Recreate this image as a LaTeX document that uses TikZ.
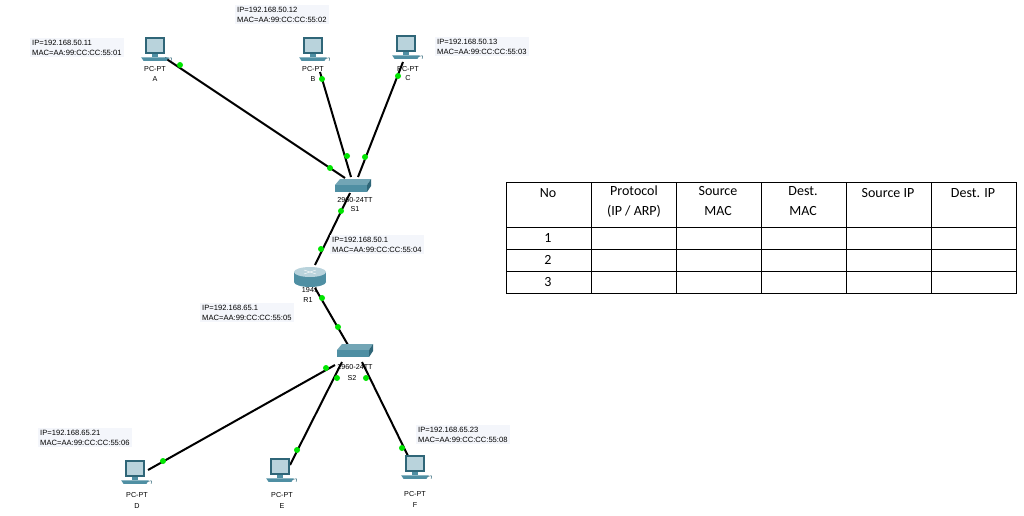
\documentclass[tikz,border=0pt]{standalone}
\usepackage{fontspec}
\setmainfont{Liberation Sans}
\newfontfamily\tabfont{Carlito}
\usetikzlibrary{positioning}
\definecolor{lblbg}{HTML}{F4F6FB}
\definecolor{dev}{HTML}{4F8FA3}
\definecolor{devlight}{HTML}{B9D3DC}
\definecolor{devdark}{HTML}{2F6678}
\tikzset{
  lbl/.style={font=\fontsize{7.6}{9.5}\selectfont, fill=lblbg, align=left, inner sep=2pt, anchor=north west},
  devcap/.style={font=\fontsize{7.2}{8}\selectfont, inner sep=0pt},
  link/.style={line width=2pt, black},
  dot/.style={circle, fill=green!90!black, inner sep=0pt, minimum size=6pt},
  tab/.style={font=\tabfont\fontsize{14}{15}\selectfont, inner sep=0pt},
  pc/.pic={
    \begin{scope}[scale=1.15]
    \fill[devdark] (-9,-9) rectangle (9,6);
    \fill[devlight] (-7,-7) rectangle (7,4);
    \fill[dev] (-3,6) rectangle (3,9);
    \fill[dev] (-12,9) -- (12,9) -- (10,12) -- (-10,12) -- cycle;
    \draw[devdark,thin] (11,10) .. controls (15,9) .. (14,12);
    \end{scope}
  },
  sw/.pic={
    \fill[dev!80!white] (-18,0) -- (-13,-6) -- (18,-6) -- (14,0) -- cycle;
    \fill[dev] (-18,0) rectangle (14,7);
    \fill[devdark] (14,0) -- (18,-6) -- (18,1) -- (14,7) -- cycle;
  },
  rt/.pic={
    \fill[dev] (-16,0) rectangle (16,10);
    \fill[dev] (0,10) ellipse (16 and 5);
    \fill[devlight] (0,0) ellipse (16 and 5);
    \draw[white,thin] (-6,-2) -- (6,2) (-6,2) -- (6,-2);
  }
}
\begin{document}
\begin{tikzpicture}[x=1pt,y=-1pt]
\useasboundingbox[fill=white] (0,0) rectangle (1024,516);
\coordinate (A) at (155,47); \coordinate (B) at (313,47); \coordinate (C) at (406,45);
\coordinate (S1) at (353,185); \coordinate (R1) at (310,272); \coordinate (S2) at (355,350);
\coordinate (D) at (135,470); \coordinate (E) at (280,468); \coordinate (F) at (415,465);
\coordinate (Ae) at (165,58); \coordinate (Be) at (320,72); \coordinate (Ce) at (403,62);
\coordinate (S1a) at (345,178); \coordinate (S1b) at (351,177); \coordinate (S1c) at (358,177);
\coordinate (S1d) at (350,193); \coordinate (R1a) at (315,265); \coordinate (R1b) at (315,288);
\coordinate (S2a) at (348,345); \coordinate (S2d) at (335,365); \coordinate (S2e) at (342,362);
\coordinate (S2f) at (362,362); \coordinate (De) at (148,470); \coordinate (Ee) at (290,465);
\coordinate (Fe) at (410,460);
\draw[link] (Ae) -- (S1a); \draw[link] (Be) -- (S1b); \draw[link] (Ce) -- (S1c);
\draw[link] (S1d) -- (R1a); \draw[link] (R1b) -- (S2a);
\draw[link] (S2d) -- (De); \draw[link] (S2e) -- (Ee); \draw[link] (S2f) -- (Fe);
\pic at (A) {pc}; \pic at (B) {pc}; \pic at (C) {pc};
\pic at (D) {pc}; \pic at (E) {pc}; \pic at (F) {pc};
\pic at (S1) {sw}; \pic at (S2) {sw}; \pic at (R1) {rt};
\foreach \p [count=\i] in {(180,65),(330,168),(322,79),(347,156),(398,76),(365,157),(341,211),(321,249),(322,298),(338,327),(326,368),(163,461),(337,378),(297,450),(366,378),(402,448)}
  \node[dot] (d\i) at \p {};
\node[devcap] (cA1) at (155,69) {PC-PT}; \node[devcap] (cA2) at (155,79) {A};
\node[devcap] (cB1) at (313,69) {PC-PT}; \node[devcap] (cB2) at (313,79) {B};
\node[devcap] (cC1) at (408,69) {PC-PT}; \node[devcap] (cC2) at (408,78) {C};
\node[devcap] (cS11) at (355,200) {2960-24TT}; \node[devcap] (cS12) at (355,209) {S1};
\node[devcap] (cR11) at (310,290) {1941}; \node[devcap] (cR12) at (308,300) {R1};
\node[devcap] (cS21) at (355,367) {2960-24TT}; \node[devcap] (cS22) at (352,378) {S2};
\node[devcap] (cD1) at (137,495) {PC-PT}; \node[devcap] (cD2) at (137,506) {D};
\node[devcap] (cE1) at (282,495) {PC-PT}; \node[devcap] (cE2) at (282,506) {E};
\node[devcap] (cF1) at (415,494) {PC-PT}; \node[devcap] (cF2) at (415,505) {F};
\node[lbl] (lA) at (30,38) {IP=192.168.50.11\\MAC=AA:99:CC:CC:55:01};
\node[lbl] (lB) at (235,5) {IP=192.168.50.12\\MAC=AA:99:CC:CC:55:02};
\node[lbl] (lC) at (435,37) {IP=192.168.50.13\\MAC=AA:99:CC:CC:55:03};
\node[lbl] (lR1) at (330,235) {IP=192.168.50.1\\MAC=AA:99:CC:CC:55:04};
\node[lbl] (lR2) at (200,303) {IP=192.168.65.1\\MAC=AA:99:CC:CC:55:05};
\node[lbl] (lD) at (38,428) {IP=192.168.65.21\\MAC=AA:99:CC:CC:55:06};
\node[lbl] (lF) at (416,425) {IP=192.168.65.23\\MAC=AA:99:CC:CC:55:08};
\draw[line width=0.8pt] (506,182) rectangle (1016,293);
\foreach \y in {227,249,271} \draw[line width=0.6pt] (506,\y) -- (1016,\y);
\foreach \x in {591,676,761,846,931} \draw[line width=0.6pt] (\x,182) -- (\x,293);
\node[tab] (h1) at (548,193) {No};
\node[tab,align=center,anchor=north] (h2) at (634,186) {Protocol\\[5pt](IP / ARP)};
\node[tab,align=center,anchor=north] (h3) at (718,186) {Source\\[5pt]MAC};
\node[tab,align=center,anchor=north] (h4) at (803,186) {Dest.\\[5pt]MAC};
\node[tab] (h5) at (888,193) {Source IP};
\node[tab] (h6) at (973,193) {Dest. IP};
\node[tab] (r1) at (548,238) {1};
\node[tab] (r2) at (548,260) {2};
\node[tab] (r3) at (548,282) {3};
\end{tikzpicture}
\end{document}
